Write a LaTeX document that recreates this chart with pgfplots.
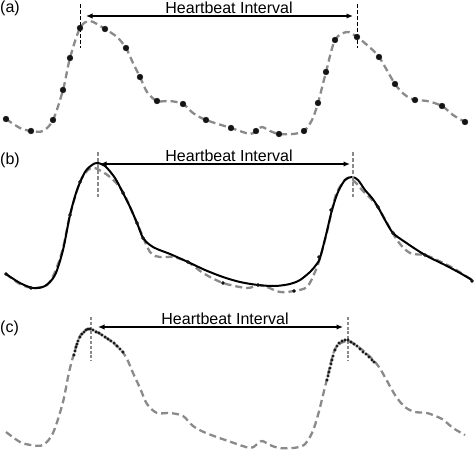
\documentclass[border=0pt]{standalone}
\usepackage{pgfplots}
\pgfplotsset{compat=1.18}
\usepackage{fontspec}
\setmainfont{Liberation Sans}
\usetikzlibrary{arrows.meta}
\definecolor{dgray}{HTML}{8A8A8A}
\definecolor{dotc}{HTML}{141414}
\begin{document}
\begin{tikzpicture}
\begin{axis}[
  scale only axis, width=474pt, height=452pt,
  xmin=0, xmax=474, ymin=0, ymax=452, y dir=reverse,
  hide axis, clip=false,
  wave/.style={dgray, line width=2.3pt, dash pattern=on 7pt off 4pt, smooth, tension=0.5, no marks},
  vline/.style={black, line width=0.9pt, dash pattern=on 4pt off 2pt, no marks},
  gvline/.style={dgray, line width=1.6pt, dash pattern=on 4pt off 2pt, no marks},
  arr/.style={black, line width=1.5pt, no marks, {Latex[length=6.5pt,width=5.5pt]}-{Latex[length=6.5pt,width=5.5pt]}},
  dots/.style={only marks, mark=*, mark options={fill=dotc, draw=dotc}, color=dotc},
]
\coordinate (bl) at (rel axis cs:0,1);
\coordinate (tr) at (rel axis cs:1,0);
% ---------- panel (a) ----------
\addplot[wave] coordinates {
(6,119) (20,128) (31,131) (43,131) (53,120) (63,90) (70,58) (80,28) (90,21)
(105,29) (117,37) (126,48) (133,63) (140,77) (147,92) (157,101) (170,101)
(183,104) (193,113) (206,120) (231,128) (250,134) (256,131) (262,127) (270,131)
(279,134) (293,134) (304,131) (312,120) (318,103) (326,72) (335,40) (347,32)
(357,37) (367,45) (379,57) (395,84) (405,95) (415,100) (427,101) (442,106)
(453,115) (465,122)};
\addplot[dots, mark size=2.9pt] coordinates {
(6,119) (31,131) (53,120) (63,90) (70,58) (80,28) (105,29) (126,48) (140,77)
(157,101) (183,104) (206,120) (231,128) (256,131) (279,134) (304,131) (318,103)
(326,72) (335,40) (357,37) (379,57) (395,84) (415,100) (442,106) (465,122)};
\addplot[vline] coordinates {(80,4) (80,48)};
\addplot[vline] coordinates {(357,4) (357,48)};
\addplot[arr] coordinates {(86,16) (353,16)};
\node[font=\fontsize{16}{19}\selectfont, inner sep=0pt] at (axis cs:229,7.5) {Heartbeat Interval};
\node[font=\fontsize{16}{19}\selectfont, inner sep=0pt, anchor=west] at (axis cs:0,8) {(a)};
% ---------- panel (b) ----------
\addplot[wave] coordinates {
(6,274) (20,284) (33,288) (47,285) (55,272) (63,248) (70,215) (80,182) (88,170)
(95,168) (110,177) (123,192) (137,223) (150,252) (160,257) (173,257) (188,262)
(203,273) (223,283) (247,288) (258,285) (267,287) (280,292) (294,291) (307,287)
(315,272) (320,258) (327,232) (332,210) (337,192) (347,178) (355,182) (362,190)
(377,206) (397,240) (410,253) (425,255) (437,260) (453,268) (472,280)};
\addplot[black, line width=2pt, smooth, tension=0.5, no marks] coordinates {
(6,274) (20,283) (33,288) (45,286) (55,275) (63,250) (70,215) (77,190) (85,172)
(92,165) (97,163) (105,166) (115,178) (123,193) (130,207) (137,223) (143,238)
(150,245) (157,249) (170,254) (188,262) (205,270) (223,277) (240,282) (258,285)
(275,286) (290,284) (300,280) (310,272) (316,265) (320,258) (326,235) (332,210)
(338,192) (345,180) (352,177) (358,180) (365,190) (372,198) (378,207) (385,220)
(393,233) (405,242) (425,255) (445,265) (460,273) (472,280)};
\addplot[dots, mark size=1.7pt] coordinates {
(6,274) (31,288) (70,215) (80,182) (123,193) (137,223) (143,238) (188,262)
(223,283) (258,285) (294,291) (319,257) (331,210) (378,207) (393,233) (425,255)
(472,281)};
\addplot[gvline] coordinates {(98,152) (98,197)};
\addplot[gvline] coordinates {(353,152) (353,197)};
\addplot[arr] coordinates {(100,164) (350,164)};
\node[font=\fontsize{16}{19}\selectfont, inner sep=0pt] at (axis cs:229,155.5) {Heartbeat Interval};
\node[font=\fontsize{16}{19}\selectfont, inner sep=0pt, anchor=west] at (axis cs:0,160) {(b)};
% ---------- panel (c) ----------
\addplot[wave] coordinates {
(6,432) (20,442) (31,445) (43,445) (53,433) (63,402) (70,368) (80,336) (90,329)
(105,337) (117,346) (126,357) (133,373) (140,388) (147,404) (157,413) (170,413)
(183,416) (193,426) (206,433) (231,442) (250,448) (256,445) (262,441) (270,445)
(279,448) (293,448) (304,445) (312,433) (318,415) (326,383) (335,349) (347,341)
(357,346) (367,354) (379,367) (395,395) (405,407) (415,412) (427,413) (442,419)
(453,428) (465,435)};
\addplot[dots, mark size=1.4pt] coordinates {
(74,355) (75,351) (76,347) (77,344) (78,341) (80,337) (82,334) (84,332) (86,330)
(88,329) (90,329) (93,330) (96,332) (99,333) (102,335) (105,337) (108,339)
(111,341) (114,343) (117,346) (120,349) (123,352)
(327,380) (328,376) (329,372) (330,368) (331,364) (332,360) (333,356) (335,350)
(337,346) (339,343) (342,341) (345,340) (348,340) (351,342) (354,344) (357,346)
(360,349) (363,352) (366,354) (369,357) (372,360) (374,362)};
\addplot[gvline, line width=1.3pt, dash pattern=on 3pt off 1.8pt] coordinates {(91,317) (91,361)};
\addplot[gvline, line width=1.3pt, dash pattern=on 3pt off 1.8pt] coordinates {(348,317) (348,361)};
\addplot[arr] coordinates {(98,327) (343,327)};
\node[font=\fontsize{16}{19}\selectfont, inner sep=0pt] at (axis cs:225,318.5) {Heartbeat Interval};
\node[font=\fontsize{16}{19}\selectfont, inner sep=0pt, anchor=west] at (axis cs:0,328) {(c)};
\end{axis}
\pgfresetboundingbox
\path (bl) rectangle (tr);
\end{tikzpicture}
\end{document}
